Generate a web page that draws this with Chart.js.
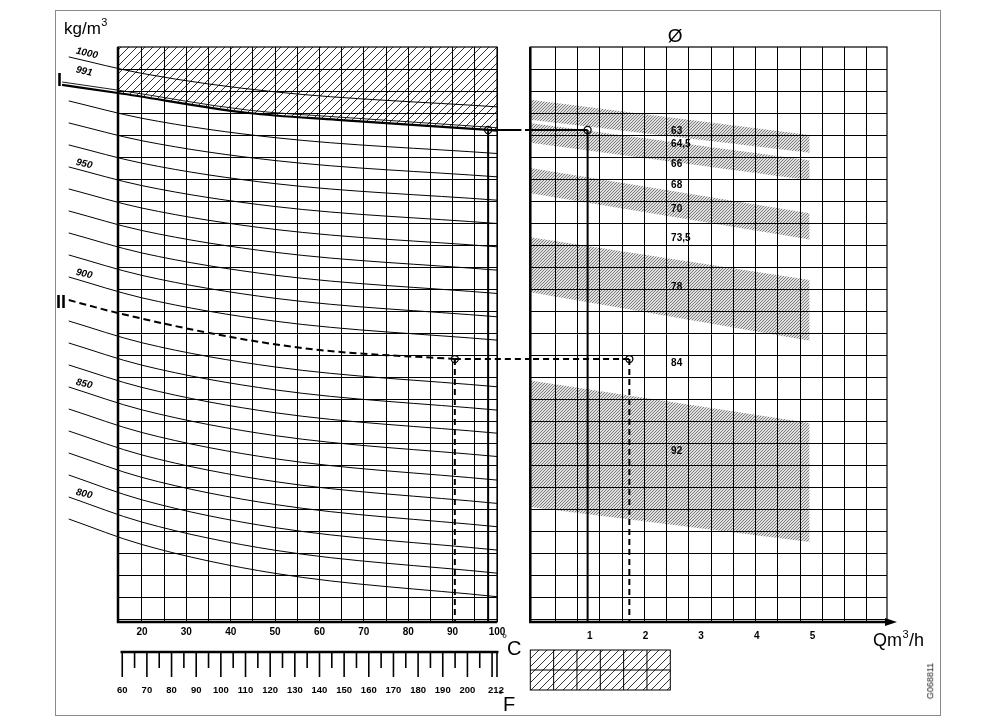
<!DOCTYPE html>
<html>
<head>
<meta charset="utf-8">
<script src="https://cdn.jsdelivr.net/npm/chart.js@4.4.1/dist/chart.umd.min.js"></script>
<style>
  body { margin: 0; background: #fff; width: 988px; height: 720px; overflow: hidden; position: relative; }
  #frame { position: absolute; left: 55px; top: 10px; width: 884px; height: 704px; border: 1px solid #8a8a8a; }
  #left { position: absolute; left: 0; top: 0; }
  #right { position: absolute; left: 525px; top: 0; }
  #code { position: absolute; left: 912px; top: 676px; transform: rotate(-90deg); font: 9px "Liberation Sans"; color: #222; }
</style>
</head>
<body>
<div id="frame"></div>
<canvas id="left" width="525" height="720"></canvas>
<canvas id="right" width="463" height="720"></canvas>
<div id="code">G068811</div>
<script>
const FONT = '"Liberation Sans", Arial, sans-serif';

// temperature axis (°C)
const tempGrid = [20, 25, 30, 35, 40, 45, 50, 55, 60, 65, 70, 75, 80, 85, 90, 95];
const tempLabels = [20, 30, 40, 50, 60, 70, 80, 90, 100];
const fahrenheitTicks = [60, 65, 70, 75, 80, 85, 90, 95, 100, 105, 110, 115, 120, 125, 130, 135, 140, 145, 150, 155, 160, 165, 170, 175, 180, 185, 190, 195, 200, 205, 210, 212];
const fahrenheitLabels = [60, 70, 80, 90, 100, 110, 120, 130, 140, 150, 160, 170, 180, 190, 200, 212];

// density grid (kg/m3)
const densityGrid = [994.5, 984.5, 974.5, 964.5, 954.5, 944.5, 934.5, 924.5, 914.5, 904.5, 894.5, 884.5, 874.5, 864.5, 854.5, 844.5, 834.5, 824.5, 814.5, 804.5, 794.5, 784.5, 774.5, 764.5, 754.5, 744.5];

// density curves, read at these temperatures
const tempPoints = [3.5, 20, 50, 100];
const curveStart = [1000, 980, 970, 960, 950, 940, 930, 920, 910, 900, 880, 870, 860, 850, 840, 830, 820, 810, 800, 790];
const curveAt20  = [992.5, 972.1, 961.9, 951.7, 941.5, 931.3, 921.1, 910.9, 900.7, 890.5, 870.1, 859.9, 849.8, 839.6, 829.3, 819.1, 808.9, 798.7, 788.6, 778.4];
const curveAt50  = [984.1, 963.3, 952.9, 942.4, 932.0, 921.6, 911.2, 900.8, 890.3, 879.9, 859.1, 848.7, 838.3, 827.9, 817.4, 807.0, 796.6, 786.1, 775.8, 765.3];
const curveAt100 = [977.3, 956.1, 945.5, 934.9, 924.3, 913.7, 903.1, 892.5, 881.9, 871.3, 850.1, 839.5, 829.0, 818.4, 807.7, 797.1, 786.5, 775.9, 765.4, 754.7];
const curveLabels = ['1000', '991', '950', '900', '850', '800'];
const curveLabelDensity = [1001.5, 993, 951, 901, 851, 801];

// example I (solid) and II (dashed)
const curveIT = [2, 14.6, 44, 64, 98, 100];
const curveID = [987.3, 983.6, 974.5, 971.4, 966.8, 966.5];
const curveIIT = [3.5, 14.6, 40, 60, 90.5];
const curveIID = [889.5, 883.6, 872.7, 866.8, 862.7];
const pointI = { t: 98, d: 966.8, q: 0.96 };
const pointII = { t: 90.5, d: 862.7, q: 1.71 };

// flow axis (m3/h)
const flowGrid = [0.38, 0.78, 1.18, 1.58, 1.98, 2.38, 2.78, 3.18, 3.58, 3.98, 4.38, 4.78, 5.18, 5.58, 5.98];
const flowLabels = [1, 2, 3, 4, 5];

// nozzle bands (Ø), edges at Q start / Q end
const bandQ = [-0.07, 4.95];
const bandTop    = [[980.5, 964.5], [970, 953], [949.5, 929], [918, 898.6], [853, 833.6]];
const bandBottom = [[971.4, 956.4], [961, 944], [938, 917], [893, 871], [795.5, 779.5]];
const nozzleLabels = ['63', '64,5', '66', '68', '70', '73,5', '78', '84', '92'];
const nozzleLabelDensity = [966.8, 960.9, 951.8, 942.3, 931.4, 918.2, 895.9, 861.4, 821.4];

const DMIN = 743.2, DMAX = 1004.5;

function hatchPattern() {
  const c = document.createElement('canvas');
  c.width = 8; c.height = 8;
  const g = c.getContext('2d');
  g.strokeStyle = '#000'; g.lineWidth = 0.8;
  g.beginPath(); g.moveTo(0, 8); g.lineTo(8, 0); g.moveTo(-2, 2); g.lineTo(2, -2); g.moveTo(6, 10); g.lineTo(10, 6); g.stroke();
  return g.createPattern(c, 'repeat');
}
function dotPattern() {
  const c = document.createElement('canvas');
  c.width = 3; c.height = 3;
  const g = c.getContext('2d');
  g.fillStyle = 'rgba(0,0,0,0.12)'; g.fillRect(0, 0, 3, 3);
  g.fillStyle = 'rgba(0,0,0,0.45)'; g.fillRect(0, 0, 1, 1); g.fillRect(2, 1, 1, 1); g.fillRect(1, 2, 1, 1);
  return g.createPattern(c, 'repeat');
}
const hatch = hatchPattern();
const dots = dotPattern();

function line(xs, ys, opts) {
  return Object.assign({
    data: xs.map((x, i) => ({ x: x, y: ys[i] })),
    showLine: true, pointRadius: 0, borderColor: '#000', borderWidth: 1, fill: false
  }, opts || {});
}

function superText(ctx, base, sup, x, y, size) {
  ctx.font = size + 'px ' + FONT;
  ctx.fillText(base[0], x, y);
  let w = ctx.measureText(base[0]).width;
  ctx.font = Math.round(size * 0.62) + 'px ' + FONT;
  ctx.fillText(sup, x + w + 0.5, y - size * 0.45);
  if (base[1]) {
    const sw = ctx.measureText(sup).width;
    ctx.font = size + 'px ' + FONT;
    ctx.fillText(base[1], x + w + sw + 1, y);
  }
}

// ---------- left chart ----------
const leftSets = [];
leftSets.push(line(curveIT.slice(1), curveID.slice(1), { fill: 'end', backgroundColor: hatch, borderWidth: 0, cubicInterpolationMode: 'monotone' }));
for (let i = 0; i < curveStart.length; i++) {
  leftSets.push(line(tempPoints, [curveStart[i], curveAt20[i], curveAt50[i], curveAt100[i]], { cubicInterpolationMode: 'monotone', clip: false }));
}
leftSets.push(line(curveIT, curveID, { borderWidth: 2.2, cubicInterpolationMode: 'monotone', clip: false }));
leftSets.push(line(curveIT, curveID.map(d => d + 1.3), { borderWidth: 0.9, cubicInterpolationMode: 'monotone', clip: false }));
leftSets.push(line(curveIIT, curveIID, { borderWidth: 2, borderDash: [7, 4], cubicInterpolationMode: 'monotone', clip: false }));
leftSets.push(line([pointI.t, 105.5], [pointI.d, pointI.d], { borderWidth: 2, clip: false }));
leftSets.push(line([pointI.t, pointI.t], [pointI.d, DMIN], { borderWidth: 2 }));
leftSets.push(line([pointII.t, 105.5], [pointII.d, pointII.d], { borderWidth: 2, borderDash: [6, 4], clip: false }));
leftSets.push(line([pointII.t, pointII.t], [pointII.d, DMIN], { borderWidth: 2, borderDash: [6, 4] }));
leftSets.push({ data: [{ x: pointI.t, y: pointI.d }, { x: pointII.t, y: pointII.d }], pointRadius: 3.5, pointBackgroundColor: '#fff', pointBorderColor: '#000', pointBorderWidth: 1.3, showLine: false });

const leftDecor = {
  id: 'leftDecor',
  afterDraw(chart) {
    const ctx = chart.ctx, a = chart.chartArea, xs = chart.scales.x, ys = chart.scales.y;
    ctx.save();
    ctx.strokeStyle = '#000';
    ctx.lineWidth = 1.2; ctx.strokeRect(a.left, a.top, a.right - a.left, a.bottom - a.top);
    ctx.lineWidth = 2.5;
    ctx.beginPath(); ctx.moveTo(a.left, a.top); ctx.lineTo(a.left, a.bottom); ctx.lineTo(a.right, a.bottom); ctx.stroke();
    // curve labels
    ctx.fillStyle = '#000';
    ctx.font = 'italic bold 10px ' + FONT;
    curveLabels.forEach((t, i) => {
      ctx.save();
      ctx.translate(xs.getPixelForValue(5), ys.getPixelForValue(curveLabelDensity[i]));
      ctx.rotate(0.22);
      ctx.fillText(t, 0, 0);
      ctx.restore();
    });
    ctx.font = 'bold 18px ' + FONT;
    ctx.fillText('I', 57, 86);
    ctx.fillText('II', 56, 308);
    superText(ctx, ['kg/m'], '3', 64, 34, 17);
    ctx.font = '20px ' + FONT;
    ctx.fillText('C', 507, 655);
    ctx.fillText('F', 503, 711);
    ctx.font = '13px ' + FONT;
    ctx.fillText('°', 502, 643);
    ctx.fillText('°', 498, 699);
    // Fahrenheit ruler
    const fx = f => xs.getPixelForValue((f - 32) * 5 / 9);
    ctx.lineWidth = 2.5;
    ctx.beginPath(); ctx.moveTo(fx(59.3), 652); ctx.lineTo(fx(212.6), 652); ctx.stroke();
    ctx.lineWidth = 1.6;
    fahrenheitTicks.forEach(f => {
      const long = f % 10 === 0 || f === 212;
      ctx.beginPath(); ctx.moveTo(fx(f), 652); ctx.lineTo(fx(f), long ? 677 : 668); ctx.stroke();
    });
    ctx.font = 'bold 9.5px ' + FONT;
    ctx.textAlign = 'center';
    fahrenheitLabels.forEach(f => ctx.fillText(String(f), fx(f) + (f === 212 ? -1 : 0), 693));
    ctx.restore();
  }
};

new Chart(document.getElementById('left'), {
  type: 'scatter',
  data: { datasets: leftSets },
  options: {
    responsive: false, animation: false,
    layout: { padding: { left: 118, top: 47, right: 28, bottom: 0 } },
    plugins: { legend: { display: false }, tooltip: { enabled: false } },
    scales: {
      x: {
        type: 'linear', min: 14.6, max: 100,
        afterBuildTicks: s => { s.ticks = tempGrid.concat([100]).map(v => ({ value: v })); },
        afterFit: s => { s.height = 98; },
        grid: { color: '#000', lineWidth: 1, tickLength: 0 },
        border: { display: false },
        ticks: { autoSkip: false, maxRotation: 0, padding: 4, color: '#000', font: { size: 10, weight: 'bold', family: FONT },
                 callback: v => tempLabels.includes(v) ? String(v) : '' }
      },
      y: {
        type: 'linear', min: DMIN, max: DMAX,
        afterBuildTicks: s => { s.ticks = densityGrid.map(v => ({ value: v })); },
        afterFit: s => { s.width = 0; },
        grid: { color: '#000', lineWidth: 1, tickLength: 0 },
        border: { display: false },
        ticks: { display: false }
      }
    }
  },
  plugins: [leftDecor]
});

// ---------- right chart ----------
const rightSets = [];
for (let i = 0; i < bandTop.length; i++) {
  rightSets.push(line(bandQ, bandTop[i], { borderWidth: 0 }));
  rightSets.push(line(bandQ, bandBottom[i], { borderWidth: 0, fill: '-1', backgroundColor: dots }));
}
rightSets.push(line([-0.2, pointI.q], [pointI.d, pointI.d], { borderWidth: 2, clip: false }));
rightSets.push(line([pointI.q, pointI.q], [pointI.d, DMIN], { borderWidth: 2 }));
rightSets.push(line([-0.2, pointII.q], [pointII.d, pointII.d], { borderWidth: 2, borderDash: [6, 4], clip: false }));
rightSets.push(line([pointII.q, pointII.q], [pointII.d, DMIN], { borderWidth: 2, borderDash: [6, 4] }));
rightSets.push({ data: [{ x: pointI.q, y: pointI.d }, { x: pointII.q, y: pointII.d }], pointRadius: 3.5, pointBackgroundColor: '#fff', pointBorderColor: '#000', pointBorderWidth: 1.3, showLine: false });

const rightDecor = {
  id: 'rightDecor',
  afterDraw(chart) {
    const ctx = chart.ctx, a = chart.chartArea, xs = chart.scales.x, ys = chart.scales.y;
    ctx.save();
    ctx.strokeStyle = '#000'; ctx.fillStyle = '#000';
    ctx.lineWidth = 1.2; ctx.strokeRect(a.left, a.top, a.right - a.left, a.bottom - a.top);
    ctx.lineWidth = 2.5;
    ctx.beginPath(); ctx.moveTo(a.left, a.top); ctx.lineTo(a.left, a.bottom); ctx.lineTo(a.right + 2, a.bottom); ctx.stroke();
    ctx.beginPath(); ctx.moveTo(a.right + 10, a.bottom); ctx.lineTo(a.right - 2, a.bottom - 4); ctx.lineTo(a.right - 2, a.bottom + 4); ctx.closePath(); ctx.fill();
    ctx.font = 'bold 10px ' + FONT;
    nozzleLabels.forEach((t, i) => ctx.fillText(t, xs.getPixelForValue(2.46), ys.getPixelForValue(nozzleLabelDensity[i]) + 4));
    ctx.font = '19px ' + FONT;
    ctx.fillText('Ø', xs.getPixelForValue(2.4), 42);
    superText(ctx, ['Qm', '/h'], '3', a.right - 14, 646, 18);
    // hatched key box
    const bx = a.left, by = 650, bw = 140, bh = 40;
    ctx.fillStyle = hatch; ctx.fillRect(bx, by, bw, bh);
    ctx.lineWidth = 1;
    ctx.strokeRect(bx, by, bw, bh);
    ctx.beginPath();
    for (let k = 1; k < 6; k++) { ctx.moveTo(bx + k * bw / 6, by); ctx.lineTo(bx + k * bw / 6, by + bh); }
    ctx.moveTo(bx, by + bh / 2); ctx.lineTo(bx + bw, by + bh / 2);
    ctx.stroke();
    ctx.restore();
  }
};

new Chart(document.getElementById('right'), {
  type: 'scatter',
  data: { datasets: rightSets },
  options: {
    responsive: false, animation: false,
    layout: { padding: { left: 3, top: 47, right: 101, bottom: 0 } },
    plugins: { legend: { display: false }, tooltip: { enabled: false } },
    scales: {
      x: {
        type: 'linear', min: -0.07, max: 6.34,
        afterBuildTicks: s => { s.ticks = flowGrid.map(v => ({ value: v })); },
        afterFit: s => { s.height = 0; },
        grid: { color: '#000', lineWidth: 1, tickLength: 0 },
        border: { display: false },
        ticks: { display: false }
      },
      xl: {
        type: 'linear', position: 'bottom', min: -0.07, max: 6.34,
        afterBuildTicks: s => { s.ticks = flowLabels.map(v => ({ value: v })); },
        afterFit: s => { s.height = 98; },
        grid: { display: false },
        border: { display: false },
        ticks: { autoSkip: false, maxRotation: 0, padding: 0, color: '#000', font: { size: 10, weight: 'bold', family: FONT } }
      },
      y: {
        type: 'linear', min: DMIN, max: DMAX,
        afterBuildTicks: s => { s.ticks = densityGrid.map(v => ({ value: v })); },
        afterFit: s => { s.width = 0; },
        grid: { color: '#000', lineWidth: 1, tickLength: 0 },
        border: { display: false },
        ticks: { display: false }
      }
    }
  },
  plugins: [rightDecor]
});
</script>
</body>
</html>
